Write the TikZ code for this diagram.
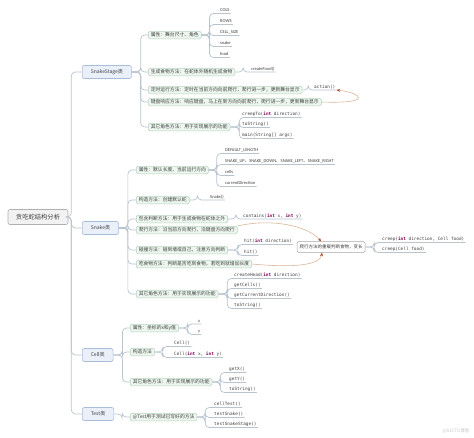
\documentclass[tikz,border=0pt]{standalone}
\usepackage{fontspec}
\setmainfont{Carlito}
\newfontfamily\cjk{Noto Sans CJK SC}
\newfontfamily\codef{DejaVu Sans Mono}
\usetikzlibrary{arrows.meta}
\definecolor{lc}{HTML}{B9C4CF}
\definecolor{lonef}{HTML}{EAF0FA}
\definecolor{loneb}{HTML}{A9BDD8}
\definecolor{ltwof}{HTML}{EDF6EF}
\definecolor{ltwob}{HTML}{B5D3BF}
\definecolor{rootf}{HTML}{F2F2F2}
\definecolor{rootb}{HTML}{B0B0B0}
\definecolor{relc}{HTML}{D9B89A}
\definecolor{tipc}{HTML}{B0401E}
\definecolor{txt}{HTML}{404040}
\definecolor{kwc}{HTML}{7F0055}
\definecolor{wm}{HTML}{C8C8C8}
\newcommand\kw[1]{{\bfseries\color{kwc}#1}}
\tikzset{
  conn/.style={draw=lc, line width=0.7pt, rounded corners=4pt},
  rootbox/.style={draw=rootb, fill=rootf, rounded corners=2pt, line width=0.6pt,
    font=\cjk\fontsize{6.3}{7}\selectfont, text=txt, minimum width=60pt, minimum height=15pt},
  lone/.style={draw=loneb, fill=lonef, rounded corners=2pt, line width=0.6pt, anchor=west,
    font=\cjk\fontsize{5}{6}\selectfont, text=txt, inner xsep=8.5pt, minimum height=13pt},
  ltwo/.style={draw=ltwob, fill=ltwof, rounded corners=1.5pt, line width=0.5pt, anchor=west,
    font=\cjk\fontsize{4.8}{5.5}\selectfont, text=txt, inner xsep=2.5pt, inner ysep=1pt, minimum height=7.5pt},
  midbox/.style={draw=gray!70, fill=white, rounded corners=1.5pt, line width=0.5pt,
    font=\cjk\fontsize{4.5}{5}\selectfont, text=txt, inner xsep=2.5pt, minimum height=9pt},
  lfs/.style={anchor=south west, font=\fontsize{4.5}{5}\selectfont, text=txt,
    inner xsep=1pt, inner ysep=0.8pt, text height=3.4pt, text depth=1pt},
  lfc/.style={lfs, font=\codef\fontsize{4.4}{5}\selectfont},
  rel/.style={draw=relc, line width=0.6pt, -{Stealth[length=3.5pt,width=3pt,color=tipc]}}
}
\begin{document}
\begin{tikzpicture}[x=1pt,y=-1pt]
\useasboundingbox (0,0) rectangle (474,437);
\fill[white] (0,0) rectangle (474,437);

% root and level 1
\node[rootbox] (root) at (38,217) {贪吃蛇结构分析};
\node[lone] (ss) at (82,72) {SnakeStage类};
\node[lone] (sn) at (82,228) {Snake类};
\node[lone] (ce) at (82,355) {Cell类};
\node[lone] (te) at (82,414) {Test类};
\foreach \c in {ss,sn,ce,te} \draw[conn] (root.east) -- ++(3,0) |- (\c.west);

% SnakeStage
\node[ltwo] (ss1) at (148,35) {属性：舞台尺寸、角色};
\node[ltwo] (ss2) at (148,72) {生成食物方法：在蛇体外随机生成食物};
\node[ltwo] (ss3) at (148,90) {定时运行方法：定时在当前方向向前爬行，爬行进一步，更新舞台显示};
\node[ltwo] (ss4) at (148,102) {键盘响应方法：响应键盘，马上在新方向向前爬行，爬行进一步，更新舞台显示};
\node[ltwo] (ss5) at (148,127) {其它角色方法：用于实现展示的功能};
\foreach \c in {ss1,ss2,ss3,ss4,ss5} \draw[conn] (ss.east) -- ++(9,0) |- (\c.west);

\node[lfs] (ss1a) at (219,13.5) {COLS};
\node[lfs] (ss1b) at (219,24.5) {ROWS};
\node[lfs] (ss1c) at (219,35.5) {CELL\_SIZE};
\node[lfs] (ss1d) at (219,46.5) {snake};
\node[lfs] (ss1e) at (219,57.5) {food};
\foreach \c in {ss1a,ss1b,ss1c,ss1d,ss1e} \draw[conn] (ss1.east) -- ++(8,0) |- (\c.south east);

\node[lfs] (ss2a) at (250,72) {createFood()};
\draw[conn] (ss2.east) -- ++(8,0) |- (ss2a.south east);

\node[lfc] (act) at (313,90) {action()};
\draw[conn] (ss3.east) -- ++(6,0) |- (act.south east);

\node[lfc] (ss5a) at (241,117.5) {creepTo(\kw{int} direction)};
\node[lfc] (ss5b) at (241,127.5) {toString()};
\node[lfc] (ss5c) at (241,138.5) {main(String[] args)};
\foreach \c in {ss5a,ss5b,ss5c} \draw[conn] (ss5.east) -- ++(9,0) |- (\c.south east);

\draw[rel] (ss4.east) .. controls (374,104) and (362,93) .. (act.south east);

% Snake
\node[ltwo] (sn1) at (136,170) {属性：默认长度、当前运行方向};
\node[ltwo] (sn2) at (136,200) {构造方法：创建默认蛇};
\node[ltwo] (sn3) at (136,219) {包含判断方法：用于生成食物在蛇体之外};
\node[ltwo] (sn4) at (136,230) {爬行方法：沿当前方向爬行，沿键盘方向爬行};
\node[ltwo] (sn5) at (136,250) {碰撞方法：碰到墙或自己，注意方向判断};
\node[ltwo] (sn6) at (136,264) {吃食物方法：判断是否吃到食物，若吃到就增加长度};
\node[ltwo] (sn7) at (136,294) {其它角色方法：用于实现展示的功能};
\foreach \c in {sn1,sn2,sn3,sn4,sn5,sn6,sn7} \draw[conn] (sn.east) -- ++(9,0) |- (\c.west);

\node[lfs] (sn1a) at (224,153.5) {DEFAULT\_LENGTH};
\node[lfs] (sn1b) at (224,164.5) {SNAKE\_UP{\cjk 、}SNAKE\_DOWN{\cjk 、}SNAKE\_LEFT{\cjk 、}SNAKE\_RIGHT};
\node[lfs] (sn1c) at (224,175.5) {cells};
\node[lfs] (sn1d) at (224,186.5) {currentDirection};
\foreach \c in {sn1a,sn1b,sn1c,sn1d} \draw[conn] (sn1.east) -- ++(8,0) |- (\c.south east);

\node[lfs] (sn2a) at (209,200) {Snake()};
\draw[conn] (sn2.east) -- ++(8,0) |- (sn2a.south east);

\node[lfc] (sn3a) at (242,219) {contains(\kw{int} x, \kw{int} y)};
\draw[conn] (sn3.east) -- ++(8,0) |- (sn3a.south east);

\node[lfc] (sn5a) at (243,244.5) {hit(\kw{int} direction)};
\node[lfc] (sn5b) at (243,255.5) {hit()};
\foreach \c in {sn5a,sn5b} \draw[conn] (sn5.east) -- ++(10,0) |- (\c.south east);

\node[lfc] (sn7a) at (233,278.5) {createHead(\kw{int} direction)};
\node[lfc] (sn7b) at (233,288.5) {getCells()};
\node[lfc] (sn7c) at (233,298.5) {getCurrentDirection()};
\node[lfc] (sn7d) at (233,308.5) {toString()};
\foreach \c in {sn7a,sn7b,sn7c,sn7d} \draw[conn] (sn7.east) -- ++(9,0) |- (\c.south east);

% floating topic
\node[midbox] (mid) at (331,247) {爬行方法的重载判断食物，变长};
\node[lfc] (mida) at (381,242.5) {creep(\kw{int} direction, Cell food)};
\node[lfc] (midb) at (381,252.5) {creep(Cell food)};
\foreach \c in {mida,midb} \draw[conn] (mid.east) -- ++(9,0) |- (\c.south east);

\draw[rel] (sn4.north east) .. controls (272,218) and (308,226) .. ([xshift=-10pt]mid.north);
\draw[rel] (sn6.east) .. controls (295,268) and (320,265) .. ([xshift=-9pt]mid.south);

% Cell
\node[ltwo] (ce1) at (130,328) {属性：坐标的x和y值};
\node[ltwo] (ce2) at (130,352) {构造方法};
\node[ltwo] (ce3) at (130,382) {其它角色方法：用于实现展示的功能};
\foreach \c in {ce1,ce2,ce3} \draw[conn] (ce.east) -- ++(9,0) |- (\c.west);

\node[lfs] (ce1a) at (197,324) {x};
\node[lfs] (ce1b) at (197,334.5) {y};
\foreach \c in {ce1a,ce1b} \draw[conn] (ce1.east) -- ++(9,0) |- (\c.south east);

\node[lfc] (ce2a) at (173,346.5) {Cell()};
\node[lfc] (ce2b) at (173,357.5) {Cell(\kw{int} x, \kw{int} y)};
\foreach \c in {ce2a,ce2b} \draw[conn] (ce2.east) -- ++(8,0) |- (\c.south east);

\node[lfc] (ce3a) at (228,372.5) {getX()};
\node[lfc] (ce3b) at (228,382.5) {getY()};
\node[lfc] (ce3c) at (228,392.5) {toString()};
\foreach \c in {ce3a,ce3b,ce3c} \draw[conn] (ce3.east) -- ++(8,0) |- (\c.south east);

% Test
\node[ltwo] (te1) at (130,417) {@Test用于测试已写好的方法};
\draw[conn] (te.east) -- ++(8,0) |- (te1.west);
\node[lfc] (te1a) at (213,407.5) {cellTest()};
\node[lfc] (te1b) at (213,417.5) {testSnake()};
\node[lfc] (te1c) at (213,427.5) {testSnakeStage()};
\foreach \c in {te1a,te1b,te1c} \draw[conn] (te1.east) -- ++(8,0) |- (\c.south east);

% watermark
\node[font=\cjk\fontsize{4.5}{5}\selectfont, text=wm] (wmk) at (456,431) {@51CTO博客};
\end{tikzpicture}
\end{document}
